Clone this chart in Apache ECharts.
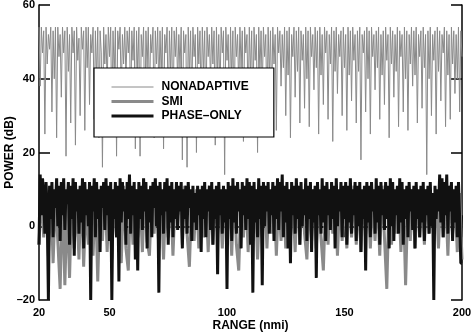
<!DOCTYPE html>
<html>
<head>
<meta charset="utf-8">
<script src="https://cdn.jsdelivr.net/npm/echarts@6/dist/echarts.min.js"></script>
<style>html,body{margin:0;padding:0;background:#fff}#c{width:474px;height:335px}</style>
</head>
<body>
<div id="c"></div>
<script>
const seriesNames = ['NONADAPTIVE', 'SMI', 'PHASE\u2013ONLY'];
const rangeStart = 20;
const nonStep = 0.5;
const smiStep = 1;
const phaseStep = 0.5;
const xTicks = [20, 50, 100, 150, 200];
const yTicks = [-20, 0, 20, 40, 60];

const nonadaptive = [
54,38,54,47,53,25,54,44,52,48,54,31,53,40,54,24,54,46,52,35,
54,47,53,19,54,42,52,28,54,47,53,22,54,45,51,30,54,48,53,26,
54,43,54,33,52,47,54,29,53,40,54,24,53,47,16,54,44,52,38,54,
46,54,27,53,41,54,19,53,48,54,35,52,44,54,40,53,47,54,29,53,
45,54,21,53,42,54,19,52,46,54,26,53,43,54,33,52,47,54,24,53,
44,54,36,53,41,54,21,52,47,54,30,53,42,54,25,53,46,54,38,52,
43,54,18,53,47,52,16,54,41,53,34,54,46,52,20,54,44,53,31,54,
42,53,27,54,46,52,39,54,44,53,22,54,41,52,35,54,47,53,14,54,
45,52,30,54,40,53,25,54,46,52,37,54,43,53,23,54,47,52,32,54,
41,53,28,54,45,52,20,54,42,53,36,54,46,52,29,54,40,53,33,54,
44,52,26,54,47,53,38,52,43,54,30,53,41,54,24,52,46,54,35,53,
42,54,28,53,45,52,32,54,40,53,27,54,46,52,37,54,43,53,25,54,
41,52,33,54,47,53,29,52,44,54,23,53,42,54,36,52,46,53,30,54,
43,52,26,54,41,53,34,54,45,52,28,53,42,54,18,52,47,53,31,54,
40,53,25,54,46,52,37,53,43,54,29,52,41,53,33,54,45,52,24,54,
44,53,35,52,42,54,27,53,46,52,31,54,40,53,26,52,44,54,38,53,
41,54,28,52,46,53,32,54,43,52,14,53,40,54,30,52,45,53,25,54,
42,53,34,52,47,54,27,53,41,52,29,54,44,53,36,52,40,54,31,53,
46
];

const smi = [
-5,10,-3,9,-8,11,-10,8,-4,-17,9,-16,7,-14,10,-6,8,-9,11,-11,
7,-5,9,-8,10,-15,8,-4,11,-7,9,-9,10,-3,8,-10,11,-6,-12,9,
-5,10,-3,8,-7,11,-4,-8,9,-2,10,-6,8,-9,9,-3,10,-8,8,3,
9,-5,11,-2,-11,8,-4,10,-6,9,-3,8,-7,10,-5,9,-2,8,-6,10,
-4,9,-8,11,-5,-12,9,-3,10,-7,8,-4,10,-9,8,-3,11,-6,9,-2,
10,-8,8,-4,9,-6,10,-3,8,-7,11,-5,9,-2,-9,8,-4,10,-6,9,
-3,-12,8,-5,10,-2,9,-8,8,-4,10,-6,9,-3,11,-5,8,-7,9,-2,
10,-6,8,-4,9,-8,11,-3,-17,9,-5,8,-2,10,-7,9,-16,8,-4,10,
-6,9,-3,8,-5,10,-2,9,-4,8,-6,10,-3,9,-8,11,-2,8,-7,9,
-9
];

const phaseOnly = [
-5,14,3,13,8,-2,12,4,-20,11,2,12,-3,10,5,13,0,11,-4,12,
3,13,-1,10,6,12,-5,11,2,13,-8,12,4,10,-2,11,1,13,-6,12,
3,10,0,12,-20,11,4,13,-3,12,2,10,-7,11,5,12,-1,13,3,11,
-4,12,-20,10,2,12,-3,11,-15,13,1,12,4,10,-5,12,2,14,-2,11,
3,12,-9,10,-12,12,2,11,-1,13,4,12,-6,10,1,11,-3,12,5,13,
0,11,-18,12,3,10,-2,12,4,13,-5,11,1,12,-3,10,2,12,-1,11,
4,12,-6,10,2,11,-2,12,5,10,-4,11,1,9,-1,11,3,10,-7,11,
2,12,-3,10,4,11,-1,12,-5,10,2,11,-13,12,3,10,-2,11,1,10,
-17,12,2,11,-4,13,1,11,-2,12,4,10,-6,12,3,11,-1,13,2,12,
-5,11,-18,12,1,10,-3,13,2,11,-16,12,0,11,4,12,-2,10,3,12,
-4,11,2,13,-1,12,4,14,-3,11,1,12,-6,10,-10,12,3,11,-2,13,
2,11,-5,12,0,10,3,13,-4,11,2,12,-7,10,1,11,-14,12,3,10,
-2,13,1,11,-4,12,3,10,-1,12,2,11,-6,13,0,10,4,12,-3,11,
2,12,-5,11,1,13,-2,10,3,12,-4,11,0,12,-7,10,2,11,-12,12,
1,11,-3,12,4,10,-2,13,1,11,-5,12,3,10,-1,12,2,11,-6,13,
0,12,-4,10,3,11,-2,13,1,12,-5,10,2,11,-3,12,4,10,-1,11,
-6,12,2,10,-3,11,1,12,-4,10,3,11,-2,12,0,9,-20,11,2,10,
4,14,1,13,-3,12,3,14,-2,11,4,12,-4,10,1,11,-3,12,2,-10,
-10
];

const toPairs = (arr, step) => arr.map((v, i) => [rangeStart + i * step, v]);

const font = '"Liberation Sans", Arial, Helvetica, sans-serif';
const lineCol = '#000';
const fmt = v => String(v).replace('-', '\u2013');

function xAxisDef(pos, showLabel) {
  return {
    type: 'value', position: pos, min: 20, max: 200,
    name: showLabel ? 'RANGE (nmi)' : '', nameLocation: 'middle', nameGap: 20, nameMoveOverlap: false,
    nameTextStyle: {fontFamily: font, fontWeight: 'bold', fontSize: 12, color: '#000'},
    axisLine: {show: true, lineStyle: {color: lineCol, width: 1.5}},
    axisTick: {show: true, inside: true, length: 11, customValues: xTicks, lineStyle: {color: lineCol, width: 1.5}},
    axisLabel: {show: showLabel, customValues: xTicks, fontFamily: font, fontWeight: 'bold', fontSize: 11, color: '#000', margin: 7},
    splitLine: {show: false}
  };
}
function yAxisDef(pos, showLabel) {
  return {
    type: 'value', position: pos, min: -20, max: 60, interval: 20,
    name: showLabel ? 'POWER (dB)' : '', nameLocation: 'middle', nameGap: 23, nameRotate: 90, nameMoveOverlap: false,
    nameTextStyle: {fontFamily: font, fontWeight: 'bold', fontSize: 12, color: '#000'},
    axisLine: {show: true, lineStyle: {color: lineCol, width: 1.5}},
    axisTick: {show: true, inside: true, length: 11, customValues: yTicks, lineStyle: {color: lineCol, width: 1.5}},
    axisLabel: {show: showLabel, customValues: yTicks, formatter: fmt, fontFamily: font, fontWeight: 'bold', fontSize: 11, color: '#000', margin: 4},
    splitLine: {show: false}
  };
}

const chart = echarts.init(document.getElementById('c'), null, {renderer: 'canvas'});
chart.setOption({
  animation: false,
  backgroundColor: '#fff',
  grid: {left: 39, right: 12, top: 5, bottom: 35, containLabel: false, outerBoundsMode: 'none'},
  xAxis: [xAxisDef('bottom', true), xAxisDef('top', false)],
  yAxis: [yAxisDef('left', true), yAxisDef('right', false)],
  legend: {
    left: 94, top: 68, orient: 'vertical',
    backgroundColor: '#fff', borderColor: '#000', borderWidth: 1.2,
    padding: [12, 25, 14, 16], itemWidth: 42, itemHeight: 10, itemGap: 0.5,
    itemStyle: {opacity: 0},
    textStyle: {fontFamily: font, fontWeight: 'bold', fontSize: 12, lineHeight: 14, color: '#000', padding: [0, 0, 0, 3]},
    data: [
      {name: seriesNames[0], itemStyle: {opacity: 0}, lineStyle: {width: 1, color: '#8a8a8a'}},
      {name: seriesNames[1], itemStyle: {opacity: 0}, lineStyle: {width: 3, color: '#8a8a8a'}},
      {name: seriesNames[2], itemStyle: {opacity: 0}, lineStyle: {width: 3, color: '#111'}}
    ]
  },
  series: [
    {name: seriesNames[0], type: 'line', symbol: 'none', data: toPairs(nonadaptive, nonStep),
     lineStyle: {color: '#8a8a8a', width: 1}, itemStyle: {color: '#8a8a8a'}, z: 2},
    {name: seriesNames[1], type: 'line', symbol: 'none', data: toPairs(smi, smiStep),
     lineStyle: {color: '#8a8a8a', width: 3}, itemStyle: {color: '#8a8a8a'}, z: 3},
    {name: seriesNames[2], type: 'line', symbol: 'none', data: toPairs(phaseOnly, phaseStep),
     lineStyle: {color: '#111', width: 3}, itemStyle: {color: '#111'}, z: 4}
  ]
});
</script>
</body>
</html>
